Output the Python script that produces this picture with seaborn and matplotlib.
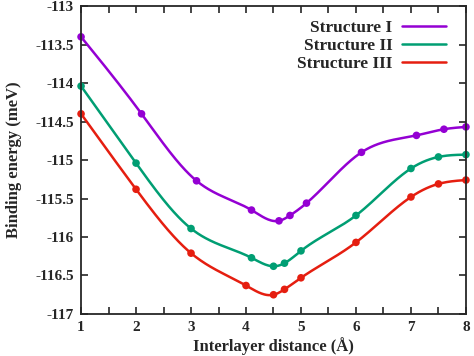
import numpy as np
import pandas as pd
import matplotlib
matplotlib.use("Agg")
import matplotlib.pyplot as plt
import seaborn as sns

# values
x_s1 = [1.0, 2.1, 3.1, 4.1, 4.6, 4.8, 5.1, 6.1, 7.1, 7.6, 8.0]
y_s1 = [-113.40, -114.40, -115.27, -115.65, -115.79, -115.72, -115.56, -114.90, -114.68, -114.60, -114.57]
x_s2 = [1.0, 2.0, 3.0, 4.1, 4.5, 4.7, 5.0, 6.0, 7.0, 7.5, 8.0]
y_s2 = [-114.04, -115.04, -115.89, -116.27, -116.38, -116.34, -116.18, -115.72, -115.11, -114.96, -114.93]
x_s3 = [1.0, 2.0, 3.0, 4.0, 4.5, 4.7, 5.0, 6.0, 7.0, 7.5, 8.0]
y_s3 = [-114.40, -115.38, -116.21, -116.63, -116.75, -116.68, -116.53, -116.07, -115.48, -115.31, -115.26]
names = ["Structure I", "Structure II", "Structure III"]
colors = ["#9400D3", "#009E73", "#E51E10"]


def cspline(x, y, n=400):
    # natural cubic spline, like gnuplot "smooth csplines"
    x = np.asarray(x, float)
    y = np.asarray(y, float)
    h = np.diff(x)
    m = len(x)
    A = np.zeros((m, m))
    b = np.zeros(m)
    A[0, 0] = A[-1, -1] = 1
    for i in range(1, m - 1):
        A[i, i - 1] = h[i - 1]
        A[i, i] = 2 * (h[i - 1] + h[i])
        A[i, i + 1] = h[i]
        b[i] = 6 * ((y[i + 1] - y[i]) / h[i] - (y[i] - y[i - 1]) / h[i - 1])
    M = np.linalg.solve(A, b)
    xs = np.linspace(x[0], x[-1], n)
    k = np.clip(np.searchsorted(x, xs) - 1, 0, m - 2)
    t0 = x[k + 1] - xs
    t1 = xs - x[k]
    hk = h[k]
    ys = (M[k] * t0**3 + M[k + 1] * t1**3) / (6 * hk) \
        + (y[k] / hk - M[k] * hk / 6) * t0 + (y[k + 1] / hk - M[k + 1] * hk / 6) * t1
    return xs, ys


pts = pd.concat([
    pd.DataFrame({"x": xx, "y": yy, "s": nm})
    for xx, yy, nm in zip([x_s1, x_s2, x_s3], [y_s1, y_s2, y_s3], names)
])
curves = []
for xx, yy, nm in zip([x_s1, x_s2, x_s3], [y_s1, y_s2, y_s3], names):
    xs, ys = cspline(xx, yy)
    curves.append(pd.DataFrame({"x": xs, "y": ys, "s": nm}))
curves = pd.concat(curves)

sns.set_style("ticks")
plt.rcParams["font.family"] = ["Liberation Serif", "DejaVu Serif"]
plt.rcParams["font.weight"] = "bold"

fig = plt.figure(figsize=(4.74, 3.56), dpi=100)
ax = fig.add_axes([0.171, 0.118, 0.812, 0.865])
pal = dict(zip(names, colors))
sns.lineplot(data=curves, x="x", y="y", hue="s", palette=pal, linewidth=1.8,
             sort=False, estimator=None, ax=ax)
sns.scatterplot(data=pts, x="x", y="y", hue="s", palette=pal, s=30,
                edgecolor="none", legend=False, ax=ax, clip_on=False)

ax.set_xlim(1, 8)
ax.set_ylim(-117, -113)
ax.set_xticks(range(1, 9))
ax.set_xticks(np.arange(1.5, 8, 1), minor=True)
ax.set_yticks(np.arange(-117, -112.9, 0.5))
ax.set_yticklabels(["-117", "-116.5", "-116", "-115.5", "-115", "-114.5", "-114", "-113.5", "-113"])
ax.tick_params(which="both", direction="in", top=True, right=True, length=5, width=1.2,
               labelsize=11, pad=5)
for sp in ax.spines.values():
    sp.set_linewidth(1.3)
for lab in ax.get_xticklabels() + ax.get_yticklabels():
    lab.set_fontweight("bold")

ax.set_xlabel("Interlayer distance (Å)", fontsize=12, fontweight="bold", labelpad=2)
ax.set_ylabel("Binding energy (meV)", fontsize=12, fontweight="bold", labelpad=10)

leg = ax.legend(loc="upper right", bbox_to_anchor=(0.992, 1.012), frameon=False,
                markerfirst=False, handlelength=2.5, labelspacing=0.1, borderaxespad=0.6,
                handletextpad=0.55, prop={"weight": "bold", "size": 12.5})
# right-align the label column like gnuplot's key
for col in leg._legend_box.get_children()[1].get_children():
    col.align = "right"

fig.savefig("out.png", dpi=100)
